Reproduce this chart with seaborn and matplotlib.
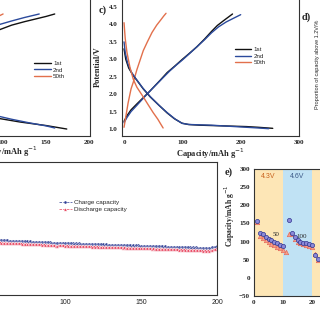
import numpy as np
import matplotlib
matplotlib.use("Agg")
import matplotlib.pyplot as plt
import seaborn as sns

# ---- panel b (cropped, top left): charge/discharge profiles ----
b_1st_chg_x = [0, 10, 25, 40, 55, 70, 85, 96, 110, 125, 140, 150, 160]
b_1st_chg_v = [1.3, 1.7, 2.3, 2.8, 3.15, 3.45, 3.7, 3.85, 3.98, 4.08, 4.17, 4.23, 4.3]
b_2nd_chg_x = [0, 10, 25, 40, 55, 70, 85, 96, 110, 125, 142]
b_2nd_chg_v = [1.25, 1.7, 2.4, 2.95, 3.35, 3.65, 3.87, 4.0, 4.1, 4.2, 4.3]
b_50_chg_x = [0, 10, 25, 40, 55, 70, 85, 100]
b_50_chg_v = [1.2, 1.8, 2.6, 3.2, 3.6, 3.9, 4.12, 4.3]
b_1st_dis_x = [0, 10, 25, 40, 55, 70, 85, 96, 120, 150, 174]
b_1st_dis_v = [3.6, 2.6, 2.0, 1.7, 1.55, 1.45, 1.36, 1.3, 1.2, 1.1, 1.0]
b_2nd_dis_x = [0, 10, 25, 40, 55, 70, 85, 96, 110, 130, 150, 160]
b_2nd_dis_v = [3.7, 2.7, 2.1, 1.8, 1.6, 1.5, 1.42, 1.36, 1.28, 1.18, 1.09, 1.03]
b_50_dis_x = [0, 10, 25, 40, 55, 70, 85, 92]
b_50_dis_v = [3.9, 2.8, 2.1, 1.7, 1.4, 1.2, 1.05, 1.0]

# ---- panel c: charge/discharge profiles ----
c_1st_chg_x = [0, 5, 12, 22, 33, 45, 62, 74, 88, 100, 112, 125, 138, 150, 160, 170, 178, 186]
c_1st_chg_v = [1.22, 1.38, 1.55, 1.72, 1.9, 2.1, 2.4, 2.62, 2.82, 3.0, 3.17, 3.36, 3.58, 3.8, 3.97, 4.1, 4.2, 4.3]
c_2nd_chg_x = [0, 5, 12, 22, 35, 48, 65, 78, 90, 100, 112, 125, 138, 150, 162, 175, 188, 200]
c_2nd_chg_v = [1.18, 1.33, 1.5, 1.68, 1.92, 2.15, 2.44, 2.66, 2.84, 2.98, 3.16, 3.36, 3.56, 3.76, 3.93, 4.07, 4.18, 4.28]
c_50_chg_x = [0, 3, 7, 12, 16, 22, 28, 33, 40, 48, 56, 63, 68, 72]
c_50_chg_v = [1.05, 1.35, 1.75, 2.15, 2.35, 2.7, 3.0, 3.25, 3.5, 3.77, 3.98, 4.13, 4.24, 4.32]
c_1st_dis_x = [0, 3, 8, 15, 22, 33, 45, 60, 74, 86, 99, 110, 130, 150, 170, 190, 210, 230, 255]
c_1st_dis_v = [3.3, 3.0, 2.75, 2.55, 2.4, 2.15, 1.92, 1.68, 1.46, 1.3, 1.17, 1.13, 1.11, 1.1, 1.09, 1.08, 1.07, 1.05, 1.02]
c_2nd_dis_x = [0, 2, 6, 12, 20, 32, 45, 60, 74, 88, 100, 112, 130, 150, 170, 190, 210, 230, 248]
c_2nd_dis_v = [3.5, 3.2, 2.9, 2.65, 2.45, 2.18, 1.93, 1.68, 1.47, 1.28, 1.16, 1.13, 1.12, 1.11, 1.09, 1.07, 1.05, 1.03, 1.01]
c_50_dis_x = [0, 2, 5, 10, 16, 22, 33, 42, 50, 58, 63, 67]
c_50_dis_v = [4.05, 3.6, 3.2, 2.78, 2.42, 2.2, 1.92, 1.68, 1.47, 1.28, 1.14, 1.03]

# ---- panel a (cropped, bottom left): long cycling ----
cycles = np.arange(1, 201)
charge_cap = [
    128.0, 126.5, 125.8, 124.9, 124.1, 123.6, 122.8, 122.3, 121.5, 121.0,
    120.4, 119.9, 119.2, 118.8, 118.1, 117.7, 117.0, 116.6, 116.1, 115.5,
    115.0, 114.6, 114.1, 113.5, 113.2, 112.6, 112.3, 111.8, 111.4, 110.9,
    110.6, 110.1, 109.8, 109.4, 109.0, 108.7, 108.2, 107.9, 107.6, 107.2,
    106.9, 106.6, 106.2, 105.9, 105.7, 105.3, 105.1, 104.8, 104.6, 104.3,
    104.1, 103.8, 103.9, 103.5, 103.3, 103.6, 103.2, 102.9, 103.1, 102.7,
    102.5, 102.8, 102.3, 102.1, 102.4, 101.9, 101.7, 102.0, 101.5, 101.3,
    101.6, 101.1, 100.9, 101.2, 100.7, 100.5, 100.8, 100.3, 100.1, 100.4,
    99.9, 99.7, 100.0, 99.5, 99.3, 99.6, 99.1, 98.9, 99.2, 98.7,
    98.5, 98.2, 97.8, 97.5, 97.3, 97.9, 98.1, 97.6, 97.8, 97.4,
    97.7, 97.2, 97.5, 97.0, 97.3, 96.8, 97.1, 96.6, 96.9, 96.4,
    96.7, 96.2, 96.5, 96.0, 96.3, 95.8, 96.1, 95.6, 95.9, 95.4,
    95.7, 95.2, 95.5, 95.0, 95.3, 94.8, 95.1, 94.6, 94.9, 94.4,
    94.7, 94.2, 94.5, 94.0, 94.3, 93.8, 94.1, 93.6, 93.9, 93.4,
    93.7, 93.2, 93.5, 93.0, 93.3, 92.8, 93.4, 93.1, 92.6, 92.9,
    92.4, 92.7, 92.2, 92.5, 92.0, 92.3, 91.8, 92.1, 91.6, 91.9,
    91.4, 91.7, 91.2, 91.5, 91.0, 91.3, 90.8, 91.1, 90.6, 90.9,
    90.4, 90.7, 90.2, 90.5, 90.0, 90.3, 89.8, 90.1, 89.6, 89.9,
    89.4, 89.7, 89.2, 89.5, 89.0, 89.3, 88.6, 88.9, 88.2, 88.5,
    88.0, 88.4, 87.9, 88.3, 88.1, 88.6, 89.4, 90.2, 90.8, 91.5,
]
discharge_cap = [
    123.5, 122.0, 121.4, 120.3, 119.8, 119.0, 118.5, 117.7, 117.2, 116.4,
    116.0, 115.3, 114.9, 114.2, 113.8, 113.1, 112.7, 112.0, 111.6, 111.0,
    110.6, 110.0, 109.7, 109.0, 108.8, 108.1, 107.9, 107.2, 107.0, 106.4,
    106.2, 105.6, 105.4, 104.9, 104.6, 104.2, 103.8, 103.5, 103.1, 102.8,
    102.4, 102.2, 101.7, 101.5, 101.2, 100.9, 100.6, 100.4, 100.1, 99.9,
    99.6, 99.4, 99.5, 99.0, 98.9, 99.1, 98.7, 98.5, 98.6, 98.2,
    98.1, 98.3, 97.8, 97.7, 97.9, 97.4, 97.3, 97.5, 97.0, 96.9,
    97.1, 96.6, 96.5, 96.7, 96.2, 96.1, 96.3, 95.8, 95.7, 95.9,
    95.4, 95.3, 95.5, 95.0, 94.9, 95.1, 94.6, 94.5, 94.7, 94.2,
    94.0, 93.6, 93.2, 92.9, 92.8, 93.4, 93.6, 93.1, 93.3, 92.9,
    93.2, 92.7, 93.0, 92.5, 92.8, 92.3, 92.6, 92.1, 92.4, 91.9,
    92.2, 91.7, 92.0, 91.5, 91.8, 91.3, 91.6, 91.1, 91.4, 90.9,
    91.2, 90.7, 91.0, 90.5, 90.8, 90.3, 90.6, 90.1, 90.4, 89.9,
    90.2, 89.7, 90.0, 89.5, 89.8, 89.3, 89.6, 89.1, 89.4, 88.9,
    89.2, 88.7, 89.0, 88.5, 88.8, 88.3, 88.9, 88.6, 88.1, 88.4,
    87.9, 88.2, 87.7, 88.0, 87.5, 87.8, 87.3, 87.6, 87.1, 87.4,
    86.9, 87.2, 86.7, 87.0, 86.5, 86.8, 86.3, 86.6, 86.1, 86.4,
    85.9, 86.2, 85.7, 86.0, 85.5, 85.8, 85.3, 85.6, 85.1, 85.4,
    84.9, 85.2, 84.7, 85.0, 84.5, 84.8, 84.1, 84.4, 83.7, 84.0,
    83.5, 83.9, 83.4, 83.8, 83.6, 84.1, 84.9, 85.7, 86.3, 87.0,
]

# ---- panel e: rate / cut-off voltage test ----
e_cycles = list(range(1, 23))
e_charge = [158, 125, 120, 113, 108, 103, 99, 95, 91, 88, np.nan,
            160, 125, 112, 105, 100, 97, 95, 93, 91, 62, 52]
e_discharge = [155, 115, 110, 103, 98, 94, 90, 86, 82, 78, 70,
               120, 122, 108, 100, 95, 92, 90, 88, 86, 66, 48]
e_windows = [(0, 10), (10, 20), (20, 40)]
e_window_labels = ["4.3V", "4.6V"]

SERIF = "Liberation Serif"
SANS = "Liberation Sans"
BLACK, BLUE, ORANGE = "#111111", "#2b4a9c", "#e2704c"

sns.set_theme(style="white")
plt.rcParams["font.family"] = [SANS, "DejaVu Sans"]
plt.rcParams["axes.linewidth"] = 0.8
plt.rcParams["axes.edgecolor"] = "#333333"

fig = plt.figure(figsize=(3.2, 3.2), dpi=100)
W = 320.0


def px_axes(left, top, width, height):
    return fig.add_axes([left / W, (W - top - height) / W, width / W, height / W])


def style_ticks(ax, family, weight, size=5, direction="out", pad=1):
    ax.tick_params(which="both", direction=direction, length=2, width=0.6,
                   pad=pad, labelsize=size, colors="#222222")
    ax.tick_params(which="minor", length=1.2)
    for lab in ax.get_xticklabels() + ax.get_yticklabels():
        lab.set_fontfamily(family)
        lab.set_fontweight(weight)


def curve(ax, x, y, color, label=None):
    sns.lineplot(x=x, y=y, ax=ax, color=color, lw=1.0, sort=False,
                 estimator=None, label=label, legend=False)


# panel b
ax_b = px_axes(-83, -1.7, 173, 137.7)
curve(ax_b, b_1st_chg_x, b_1st_chg_v, BLACK, "1st")
curve(ax_b, b_2nd_chg_x, b_2nd_chg_v, BLUE, "2nd")
curve(ax_b, b_50_chg_x, b_50_chg_v, ORANGE, "50th")
curve(ax_b, b_1st_dis_x, b_1st_dis_v, BLACK)
curve(ax_b, b_2nd_dis_x, b_2nd_dis_v, BLUE)
curve(ax_b, b_50_dis_x, b_50_dis_v, ORANGE)
ax_b.set_xlim(0, 201)
ax_b.set_ylim(0.8, 4.75)
ax_b.set_xticks([0, 50, 100, 150, 200])
ax_b.set_xticks([25, 75, 125, 175], minor=True)
ax_b.set_yticks(np.arange(1.0, 4.6, 0.5))
ax_b.set_xlabel("Capacity/mAh g$^{-1}$", family=SERIF, weight="bold", fontsize=6)
ax_b.xaxis.set_label_coords(0.5, -0.06)
style_ticks(ax_b, SERIF, "bold")
ax_b.legend(loc="upper left", bbox_to_anchor=(0.66, 0.57), frameon=False, fontsize=4.5,
            handlelength=2.6, handletextpad=0.4, labelspacing=0.2, borderpad=0)

# panel c
ax_c = px_axes(121.7, -1.7, 177.3, 137.7)
curve(ax_c, c_1st_chg_x, c_1st_chg_v, BLACK, "1st")
curve(ax_c, c_2nd_chg_x, c_2nd_chg_v, BLUE, "2nd")
curve(ax_c, c_50_chg_x, c_50_chg_v, ORANGE, "50th")
curve(ax_c, c_1st_dis_x, c_1st_dis_v, BLACK)
curve(ax_c, c_2nd_dis_x, c_2nd_dis_v, BLUE)
curve(ax_c, c_50_dis_x, c_50_dis_v, ORANGE)
ax_c.set_xlim(-4, 300)
ax_c.set_ylim(0.8, 4.75)
ax_c.set_xticks([0, 100, 200, 300])
ax_c.set_xticks([50, 150, 250], minor=True)
ax_c.set_yticks(np.arange(1.0, 4.6, 0.5))
ax_c.set_yticklabels([f"{v:.1f}" for v in np.arange(1.0, 4.6, 0.5)])
ax_c.set_xlabel("Capacity/mAh g$^{-1}$", family=SERIF, weight="bold", fontsize=6, labelpad=1)
ax_c.set_ylabel("Potential/V", family=SERIF, weight="bold", fontsize=6, labelpad=5)
style_ticks(ax_c, SERIF, "bold")
ax_c.legend(loc="upper left", bbox_to_anchor=(0.62, 0.67), frameon=False, fontsize=4.5,
            handlelength=2.6, handletextpad=0.4, labelspacing=0.2, borderpad=0)
fig.text(103 / W, 1 - 10 / W, "c)", family=SERIF, weight="bold", fontsize=7.5,
         ha="center", va="center")

# panel d (only its label and y-title are inside the crop)
fig.text(306 / W, 1 - 17 / W, "d)", family=SERIF, weight="bold", fontsize=7.5,
         ha="center", va="center")
fig.text(317 / W, 1 - 64 / W, "Proportion of capacity above 1.2V/%", fontsize=4,
         rotation=90, ha="center", va="center")

# panel a
ax_a = px_axes(-87, 162, 304, 133)
sns.lineplot(x=cycles, y=charge_cap, ax=ax_a, color="#2c3c94", lw=0.5, marker="o",
             markersize=2.2, markeredgewidth=0.3, label="Charge capacity", legend=False)
sns.lineplot(x=cycles, y=discharge_cap, ax=ax_a, color="#e8435e", lw=0.5, marker="^",
             markersize=2.4, markeredgewidth=0.3, label="Discharge capacity", legend=False)
ax_a.set_xlim(0, 200)
ax_a.set_ylim(0, 250)
ax_a.set_xticks([0, 50, 100, 150, 200])
ax_a.set_xticks([25, 75, 125, 175], minor=True)
ax_a.set_yticks([])
style_ticks(ax_a, SANS, "normal", direction="in", pad=3)
leg = ax_a.legend(loc="upper left", bbox_to_anchor=(0.47, 0.74), frameon=False, fontsize=4.5,
                  handlelength=2.0, handletextpad=0.4, labelspacing=0.2, borderpad=0)
for h in leg.legend_handles:
    h.set_linestyle("--")

# panel e
ax_e = px_axes(254, 169, 116, 127)
band_colors = ["#fde6b6", "#c0e2f4", "#fde6b6"]
for (lo, hi), bc in zip(e_windows, band_colors):
    ax_e.axvspan(lo, hi, color=bc, lw=0, zorder=0)
sns.scatterplot(x=e_cycles, y=e_charge, ax=ax_e, marker="o", s=9, color="#8c8ad8",
                edgecolor="#2e3490", linewidth=0.5, zorder=3)
sns.scatterplot(x=e_cycles, y=e_discharge, ax=ax_e, marker="^", s=10, color="#f7a08a",
                edgecolor="#e46a5a", linewidth=0.5, zorder=2)
ax_e.set_xlim(0, 40)
ax_e.set_ylim(-50, 300)
ax_e.set_xticks([0, 10, 20, 30, 40])
ax_e.set_xticks([5, 15, 25, 35], minor=True)
ax_e.set_yticks(np.arange(-50, 301, 50))
ax_e.set_ylabel("Capacity/mAh g$^{-1}$", family=SERIF, weight="bold", fontsize=5.5)
ax_e.yaxis.set_label_coords(-0.15, 0.63)
style_ticks(ax_e, SERIF, "bold")
ax_e.text(5, 290, e_window_labels[0], color="#c8621e", fontsize=5, ha="center", va="top")
ax_e.text(15, 290, e_window_labels[1], color="#3c5a88", fontsize=5, ha="center", va="top")
ax_e.text(7.5, 112, "50", family=SERIF, fontsize=5, ha="center", va="bottom")
ax_e.text(16.5, 108, "100", family=SERIF, fontsize=5, ha="center", va="bottom")
fig.text(229 / W, 1 - 172 / W, "e)", family=SERIF, weight="bold", fontsize=7.5,
         ha="center", va="center")

fig.savefig("out.png", dpi=100, facecolor="white")
